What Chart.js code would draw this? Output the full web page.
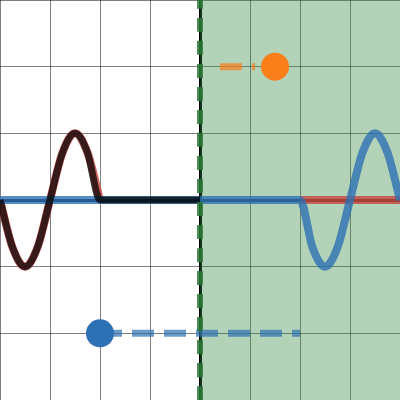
<!DOCTYPE html>
<html>
<head>
<meta charset="utf-8">
<script src="https://cdn.jsdelivr.net/npm/chart.js@4/dist/chart.umd.min.js"></script>
<style>
  html, body { margin: 0; padding: 0; background: #fff; }
  #wrap { width: 400px; height: 400px; }
</style>
</head>
<body>
<div id="wrap"><canvas id="graph"></canvas></div>
<script>
// wave samples (quarter-unit steps)
const waveX = [0, 0.25, 0.5, 0.75, 1, 1.25, 1.5, 1.75, 2];
const waveDown = [0, -0.71, -1, -0.71, 0, 0.71, 1, 0.71, 0];
const redStart = -4;
const blueStart = 2;
const shadeX = [0, 4];
const orangePoint = { x: 1.5, y: 2 };
const orangeDash = [0.4, 1.1];
const bluePoint = { x: -2, y: -2 };
const blueDash = [-2, 2];

const redWave = waveX.map((d, i) => ({ x: redStart + d, y: waveDown[i] }));
const blueWave = [{ x: -4, y: 0 }].concat(waveX.map((d, i) => ({ x: blueStart + d, y: waveDown[i] })));
const blackCurve = redWave.concat([{ x: 0, y: 0 }]);

document.addEventListener("DOMContentLoaded", function() {
    const line = { showLine: true, pointRadius: 0, fill: false, cubicInterpolationMode: 'monotone' };
    new Chart(document.getElementById("graph"), {
        type: 'scatter',
        data: {
            datasets: [
                { data: shadeX.map(x => ({ x: x, y: 3 })), showLine: true, pointRadius: 0,
                  borderWidth: 0, fill: 'start', backgroundColor: 'rgba(56,140,70,0.38)', order: 10 },
                { ...line, data: [{ x: 0, y: -3 }, { x: 0, y: 3 }],
                  borderColor: 'rgba(45,120,55,0.85)', borderWidth: 6, borderDash: [14, 9], order: 1 },
                { ...line, data: blueWave, borderColor: 'rgba(45,112,179,0.8)', borderWidth: 8, order: 5 },
                { ...line, data: redWave, borderColor: 'rgba(199,68,64,0.8)', borderWidth: 8, order: 6 },
                { ...line, data: [{ x: 2, y: 0 }, { x: 4, y: 0 }], borderColor: 'rgba(199,68,64,0.8)', borderWidth: 8, order: 6 },
                { ...line, data: blackCurve, borderColor: 'rgba(0,0,0,0.75)', borderWidth: 7, order: 4 },
                { ...line, data: orangeDash.map(x => ({ x: x, y: orangePoint.y })),
                  borderColor: 'rgba(250,126,25,0.7)', borderWidth: 7, borderDash: [22, 10], order: 3 },
                { ...line, data: blueDash.map(x => ({ x: x, y: bluePoint.y })),
                  borderColor: 'rgba(45,112,179,0.7)', borderWidth: 7, borderDash: [22, 10], order: 3 },
                { data: [orangePoint], pointRadius: 14, backgroundColor: '#fa7e19', borderWidth: 0, order: 2 },
                { data: [bluePoint], pointRadius: 14, backgroundColor: '#2d70b3', borderWidth: 0, order: 2 }
            ]
        },
        options: {
            responsive: true,
            maintainAspectRatio: false,
            animation: false,
            layout: { padding: 0, autoPadding: false },
            plugins: { legend: { display: false }, tooltip: { enabled: false } },
            scales: {
                x: {
                    type: 'linear', min: -4, max: 4,
                    ticks: { display: false, stepSize: 1 },
                    border: { display: false },
                    grid: {
                        drawTicks: false,
                        color: ctx => ctx.tick.value === 0 ? '#000' : 'rgba(0,0,0,0.5)',
                        lineWidth: ctx => ctx.tick.value === 0 ? 3 : 1
                    }
                },
                y: {
                    type: 'linear', min: -3, max: 3,
                    ticks: { display: false, stepSize: 1 },
                    border: { display: false },
                    grid: {
                        drawTicks: false,
                        color: ctx => ctx.tick.value === 0 ? '#000' : 'rgba(0,0,0,0.5)',
                        lineWidth: ctx => ctx.tick.value === 0 ? 3 : 1
                    }
                }
            }
        }
    });
});
</script>
</body>
</html>
